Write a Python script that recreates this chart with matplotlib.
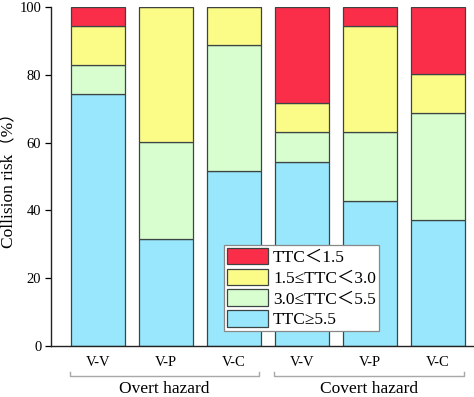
import numpy as np
import matplotlib
matplotlib.use('Agg')
from matplotlib import pyplot as plt

plt.rcParams['font.family'] = ['Liberation Serif', 'Noto Sans CJK SC', 'DejaVu Sans']

# data (percent of cases per TTC band)
categories = ['V-V', 'V-P', 'V-C', 'V-V', 'V-P', 'V-C']
groups = ['Overt hazard', 'Covert hazard']
ttc_ge_55 = [74.3, 31.5, 51.5, 54.4, 42.9, 37.2]
ttc_30_55 = [8.7, 28.6, 37.3, 8.6, 20.1, 31.5]
ttc_15_30 = [11.5, 39.9, 11.2, 8.6, 31.5, 11.4]
ttc_lt_15 = [5.5, 0.0, 0.0, 28.4, 5.5, 19.9]
labels = ['TTC\uff1c1.5', '1.5\u2264TTC\uff1c3.0', '3.0\u2264TTC\uff1c5.5', 'TTC\u22655.5']
colors = ['#fb2e4a', '#fbfb88', '#d8fecf', '#98e7fd']

x = np.arange(len(categories))

fig = plt.figure(figsize=(4.74, 3.97), dpi=100)
ax = fig.add_axes([0.1076, 0.1285, 0.8924, 0.854])

series = [ttc_ge_55, ttc_30_55, ttc_15_30, ttc_lt_15]
cols = colors[::-1]
bottom = np.zeros(len(x))
handles = []
for vals, c in zip(series, cols):
    h = ax.bar(x, vals, 0.8, bottom=bottom, color=c, edgecolor='#3c4444', linewidth=0.9)
    handles.append(h)
    bottom += np.array(vals)

ax.set_xlim(-0.69, 5.53)
ax.set_ylim(0, 100)
ax.set_yticks([0, 20, 40, 60, 80, 100])
ax.set_xticks(x)
ax.set_xticklabels(categories, fontsize=10.5)
ax.tick_params(axis='x', length=0, pad=7)
ax.tick_params(axis='y', direction='out', length=4, width=0.9, labelsize=10.5, pad=3)
ax.spines['top'].set_visible(False)
ax.spines['right'].set_visible(False)
for s in ['left', 'bottom']:
    ax.spines[s].set_linewidth(1.0)
    ax.spines[s].set_color('#222222')
ax.set_ylabel('Collision risk\uff08%\uff09', fontsize=12.5)
ax.yaxis.set_label_coords(-0.08, 0.5)

# group brackets under the tick labels
tr = ax.get_xaxis_transform()
spans = [(-0.41, 2.37), (2.59, 5.39)]
for (a, b), g in zip(spans, groups):
    ax.plot([a, a, b, b], [-0.077, -0.088, -0.088, -0.077], color='#a8a8a8', lw=1.0,
            transform=tr, clip_on=False)
    ax.text((a + b) / 2, -0.128, g, transform=tr, ha='center', va='center', fontsize=12.5)

leg = ax.legend(handles[::-1], labels, loc='lower left', bbox_to_anchor=(0.41, 0.044),
                borderaxespad=0, fontsize=12.5, frameon=True, fancybox=False,
                framealpha=1, edgecolor='#888888', handlelength=2.35, handleheight=1.1,
                labelspacing=0.15, handletextpad=0.3, borderpad=0.15)
leg.get_frame().set_linewidth(0.9)

fig.savefig('out.png', dpi=100)
